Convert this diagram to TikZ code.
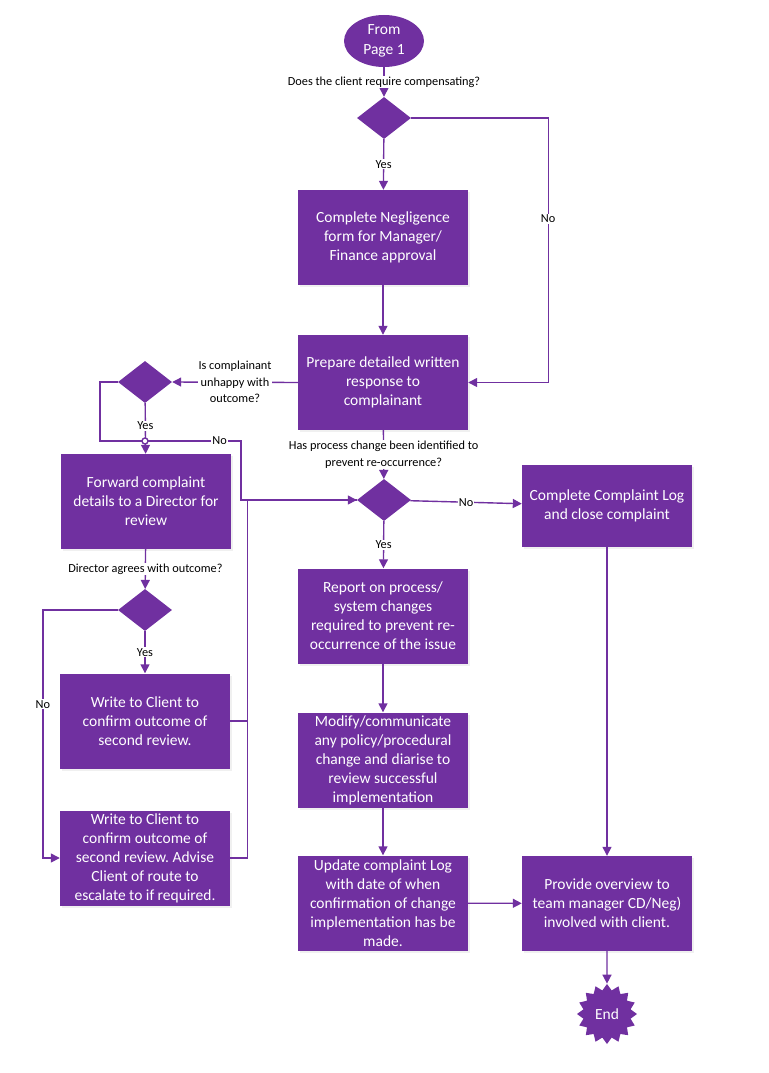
\documentclass[tikz,border=0pt]{standalone}
\usepackage{fontspec}
\setmainfont{Carlito}
\usetikzlibrary{arrows.meta,shapes.geometric,shadows}
\definecolor{flowpurple}{HTML}{7030A0}
\frenchspacing
\tikzset{
  box/.style={fill=flowpurple,text=white,minimum width=170pt,minimum height=95pt,
    inner sep=0pt,align=center,font=\fontsize{15.5}{19}\selectfont,
    drop shadow={opacity=0.12,shadow xshift=2pt,shadow yshift=-2pt}},
  dia/.style={diamond,fill=flowpurple,minimum width=54pt,minimum height=42pt,inner sep=0pt},
  lbl/.style={fill=white,inner sep=1pt,align=center,font=\fontsize{12.3}{16.5}\selectfont},
  line/.style={draw=flowpurple,line width=1.4pt},
  flow/.style={line,-{Triangle[length=9pt,width=9pt]}}
}
\begin{document}
\begin{tikzpicture}[x=1pt,y=-1pt]
\useasboundingbox (0,0) rectangle (768,1073);
% start and first question
\node[ellipse,fill=flowpurple,text=white,minimum width=80pt,minimum height=52pt,inner sep=0pt,
  align=center,font=\fontsize{15.5}{20}\selectfont] (start) at (384,41) {From\\Page 1};
\node[dia] (comp) at (384,118) {};
\node[box] (negl) at (383,237.5) {Complete Negligence\\form for Manager/\\Finance approval};
\node[box] (resp) at (383,382.5) {Prepare detailed written\\response to\\complainant};
\draw[flow] (start) -- node[lbl]{Does the client require compensating?} (comp);
\draw[flow] (comp) -- node[lbl]{Yes} (negl);
\draw[flow] (negl) -- (resp);
\draw[flow] (comp.east) -- ++(137,0) |- node[lbl,pos=0.19]{No} (resp.east);
% left branch
\node[dia] (unhappy) at (145,382) {};
\node[box] (fwd) at (146,501.5) {Forward complaint\\details to a Director for\\review};
\node[dia] (agree) at (145,610) {};
\node[box] (second) at (145,721) {Write to Client to\\confirm outcome of\\second review.};
\node[box] (advise) at (145,858) {Write to Client to\\confirm outcome of\\second review. Advise\\Client of route to\\escalate to if required.};
\draw[flow] (resp.west) -- node[lbl]{Is complainant\\unhappy with\\outcome?} (unhappy.east);
\draw[flow] (unhappy) -- node[lbl,pos=0.45]{Yes} (fwd);
\draw[flow] (fwd) -- node[lbl]{Director agrees with outcome?} (agree);
\draw[flow] (agree) -- node[lbl]{Yes} (second);
\draw[flow] (agree.west) -- ++(-75,0) |- node[lbl,pos=0.19]{No} (advise.west);
% middle column
\node[dia] (change) at (384,500) {};
\node[box,minimum height=82pt] (log) at (607,506) {Complete Complaint Log\\and close complaint};
\node[box] (report) at (383,616) {Report on process/\\system changes\\required to prevent re-\\occurrence of the issue};
\node[box] (modify) at (383,760) {Modify/communicate\\any policy/procedural\\change and diarise to\\review successful\\implementation};
\node[box] (update) at (383,903) {Update complaint Log\\with date of when\\confirmation of change\\implementation has be\\made.};
\node[box] (overview) at (607,903.5) {Provide overview to\\team manager CD/Neg)\\involved with client.};
\node[star,star points=16,star point ratio=1.25,fill=flowpurple,text=white,minimum size=60pt,
  inner sep=0pt,font=\fontsize{15.5}{19}\selectfont] (end) at (607,1014) {End};
\draw[flow] (resp) -- node[lbl]{Has process change been identified to\\prevent re-occurrence?} (change);
\draw[line] (unhappy.west) -- ++(-18,0) -- ++(0,59) -- node[lbl,pos=0.85]{No} ++(141,0) |- (change.west);
\draw[line] (advise.east) -- ++(17,0) |- (second.east);
\draw[flow] (second.east) -- ++(17,0) |- (change.west);
\draw[line,fill=white] (145,441) circle (3pt);
\draw[flow] (change) -- node[lbl]{No} (log);
\draw[flow] (change) -- node[lbl]{Yes} (report);
\draw[flow] (report) -- (modify);
\draw[flow] (modify) -- (update);
\draw[flow] (update) -- (overview);
\draw[flow] (log) -- (overview);
\draw[flow] (overview) -- (end);
\end{tikzpicture}
\end{document}
